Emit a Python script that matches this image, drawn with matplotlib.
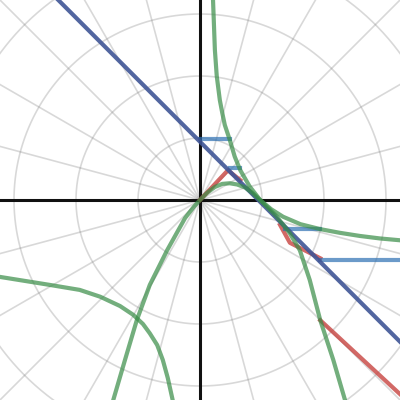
import numpy as np
import matplotlib
matplotlib.use("Agg")
import matplotlib.pyplot as plt

# curves (grid units; circles at radius 1,2,3,...)
hyp1_x = [0.21, 0.24, 0.27, 0.32, 0.36, 0.40, 0.48, 0.56, 0.65, 0.80, 0.97, 1.15, 1.34, 1.62, 1.94, 2.26, 2.58, 2.90, 3.23]
hyp1_y = [3.23, 2.42, 2.00, 1.61, 1.40, 1.21, 0.97, 0.70, 0.48, 0.22, 0.00, -0.15, -0.27, -0.39, -0.47, -0.53, -0.58, -0.62, -0.65]
hyp2_x = [-3.23, -2.42, -1.94, -1.61, -1.29, -1.08, -0.92, -0.81, -0.69, -0.60, -0.52, -0.44]
hyp2_y = [-1.24, -1.37, -1.45, -1.56, -1.71, -1.85, -2.00, -2.15, -2.34, -2.58, -2.87, -3.23]
par_x = [-1.40, -1.21, -1.02, -0.81, -0.53, -0.24, -0.10, 0.0, 0.12, 0.24, 0.36, 0.48, 0.60, 0.73, 0.85, 0.97, 1.24, 1.45, 1.61, 1.77, 1.94, 2.15, 2.34]
par_y = [-3.23, -2.58, -1.94, -1.37, -0.81, -0.29, -0.11, 0.0, 0.12, 0.21, 0.26, 0.27, 0.25, 0.20, 0.11, 0.0, -0.27, -0.54, -0.81, -1.29, -1.94, -2.58, -3.23]
line_x = [-2.5, 3.4]
line_y = [3.44, -2.46]
red_segs = [([0, 0.45, 0.65], [0, 0.48, 0.32]),
            ([1.29, 1.45, 1.94], [-0.40, -0.69, -0.94]),
            ([1.94, 3.3], [-1.94, -3.2])]
step_segs = [([0, 0.48], [0.99, 0.99]), ([0.48, 0.65], [0.52, 0.52]),
             ([1.37, 1.94], [-0.47, -0.47]), ([1.94, 3.3], [-0.97, -0.97])]

fig = plt.figure(figsize=(4, 4), dpi=100)
ax = fig.add_axes([0, 0, 1, 1])
L = 200 / 62
ax.set_xlim(-L, L); ax.set_ylim(-L, L)
ax.axis('off')

gc = (0.5, 0.5, 0.5, 0.3)
t = np.linspace(0, 2 * np.pi, 400)
for r in range(1, 6):
    ax.plot(r * np.cos(t), r * np.sin(t), color=gc, lw=1.2, zorder=1)
for a in np.arange(0, 180, 15):
    th = np.deg2rad(a)
    ax.plot([-6 * np.cos(th), 6 * np.cos(th)], [-6 * np.sin(th), 6 * np.sin(th)], color=gc, lw=1.2, zorder=1)
ax.axhline(0, color='#111111', lw=2.2, zorder=2)
ax.axvline(0, color='#111111', lw=2.2, zorder=2)

for xs, ys in red_segs:
    ax.plot(xs, ys, color='#c74440', lw=3, alpha=0.8, zorder=3)
for xs, ys in step_segs:
    ax.plot(xs, ys, color='#2d70b3', lw=3, alpha=0.7, zorder=3)
ax.plot(line_x, line_y, color='#3f5596', lw=3, alpha=0.9, zorder=4)
for xs, ys in [(hyp1_x, hyp1_y), (hyp2_x, hyp2_y), (par_x, par_y)]:
    ax.plot(xs, ys, color='#388c46', lw=3, alpha=0.7, zorder=5,
            solid_capstyle='round', solid_joinstyle='round')

fig.savefig('out.png', dpi=100)
